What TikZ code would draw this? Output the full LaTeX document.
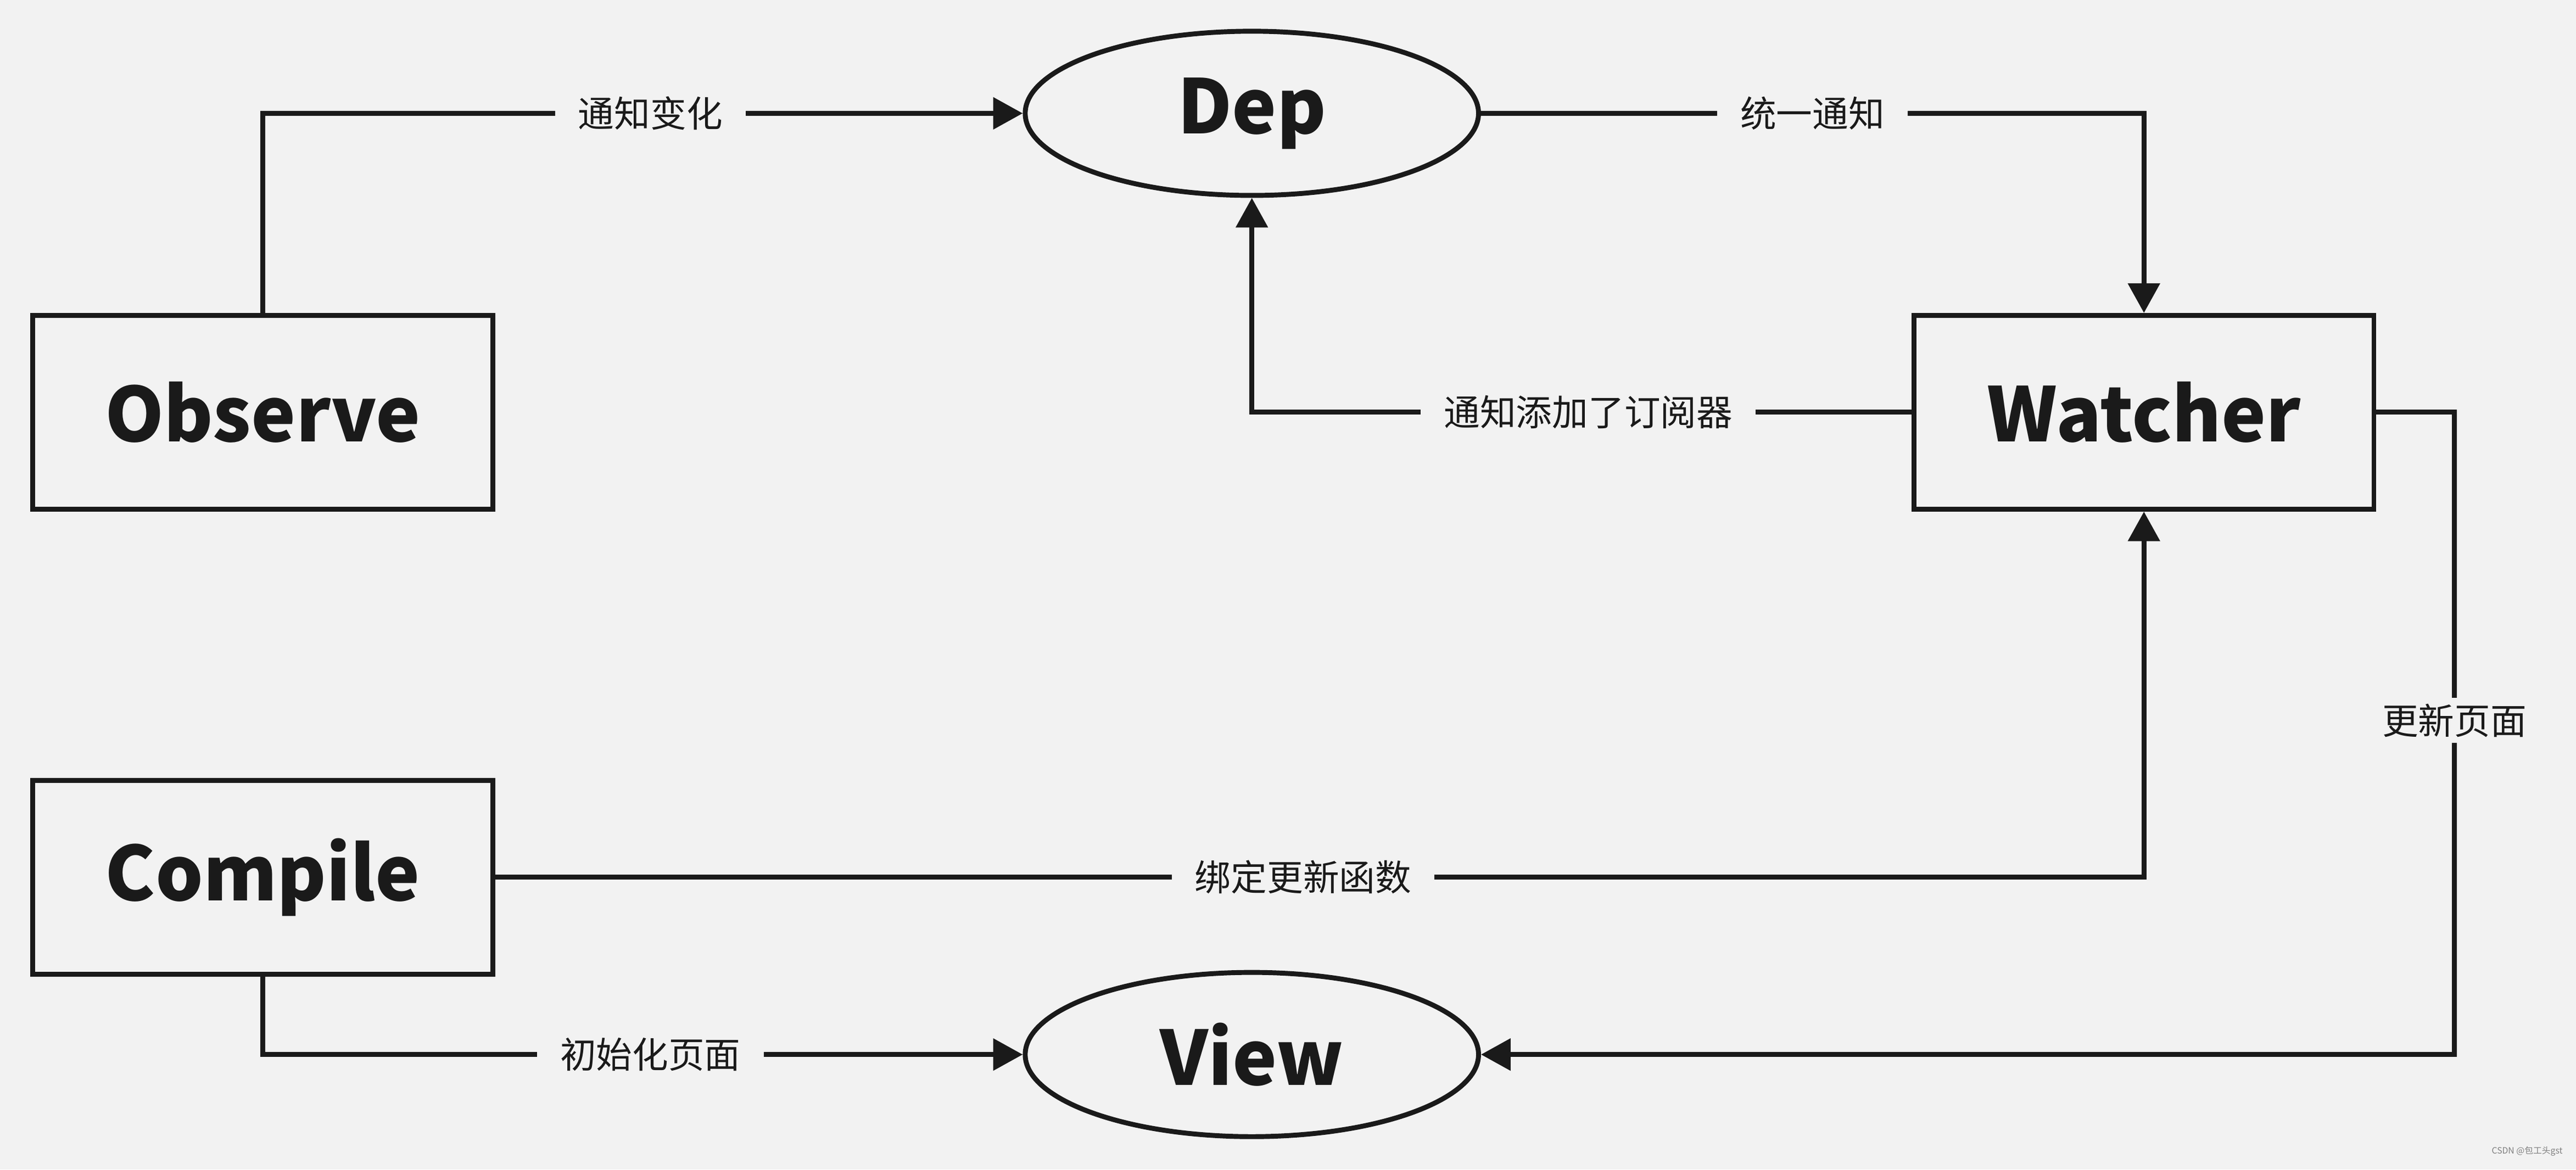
\documentclass[tikz,border=0pt]{standalone}
\usepackage{fontspec}
\setmainfont{Noto Sans CJK SC}
\usetikzlibrary{shapes.geometric,arrows.meta}
\definecolor{bg}{HTML}{F2F2F2}
\definecolor{ink}{HTML}{1A1A1A}
\tikzset{
 box/.style={draw=ink,line width=1.7pt,minimum width=5.6cm,minimum height=2.36cm,inner sep=0pt,font=\fontsize{26}{30}\selectfont\bfseries,text=ink},
 ell/.style={ellipse,draw=ink,line width=1.7pt,minimum width=5.52cm,minimum height=2cm,inner sep=0pt,font=\fontsize{26}{30}\selectfont\bfseries,text=ink},
 conn/.style={draw=ink,line width=1.7pt,-{Triangle[length=0.36cm,width=0.38cm]}},
 plain/.style={draw=ink,line width=1.7pt},
 lbl/.style={fill=bg,inner xsep=8pt,inner ysep=2pt,font=\fontsize{12.5}{15}\selectfont,text=ink}
}
\begin{document}
\begin{tikzpicture}[x=0.02cm,y=-0.02cm]
\fill[bg] (0,0) rectangle (1568,712);
\useasboundingbox (0,0) rectangle (1568,712);
\node[ell] (dep) at (762,69) {Dep};
\node[ell] (view) at (762,642) {View};
\node[box] (obs) at (160,251) {Observe};
\node[box] (wat) at (1305,251) {Watcher};
\node[box] (com) at (160,534) {Compile};
\coordinate (c1) at (160,69);
\coordinate (c2) at (1305,69);
\coordinate (c3) at (762,251);
\coordinate (c4) at (1305,534);
\coordinate (c5) at (160,642);
\coordinate (c6) at (1494,251);
\coordinate (c7) at (1494,642);
\draw[conn] (obs.north) -- (c1) -- node[lbl,pos=0.51]{通知变化} (dep.west);
\draw[conn] (dep.east) -- node[lbl,pos=0.5]{统一通知} (c2) -- (wat.north);
\draw[conn] (wat.west) -- node[lbl,pos=0.49]{通知添加了订阅器} (c3) -- (dep.south);
\draw[conn] (com.east) -- node[lbl,pos=0.49]{绑定更新函数} (c4) -- (wat.south);
\draw[conn] (com.south) -- (c5) -- node[lbl,pos=0.51]{初始化页面} (view.west);
\draw[conn] (wat.east) -- (c6) -- node[lbl,pos=0.48]{更新页面} (c7) -- (view.east);
\node[font=\fontsize{3}{4}\selectfont,text=gray,anchor=south east] (wm) at (1566,710) {CSDN @包工头gst};
\end{tikzpicture}
\end{document}
